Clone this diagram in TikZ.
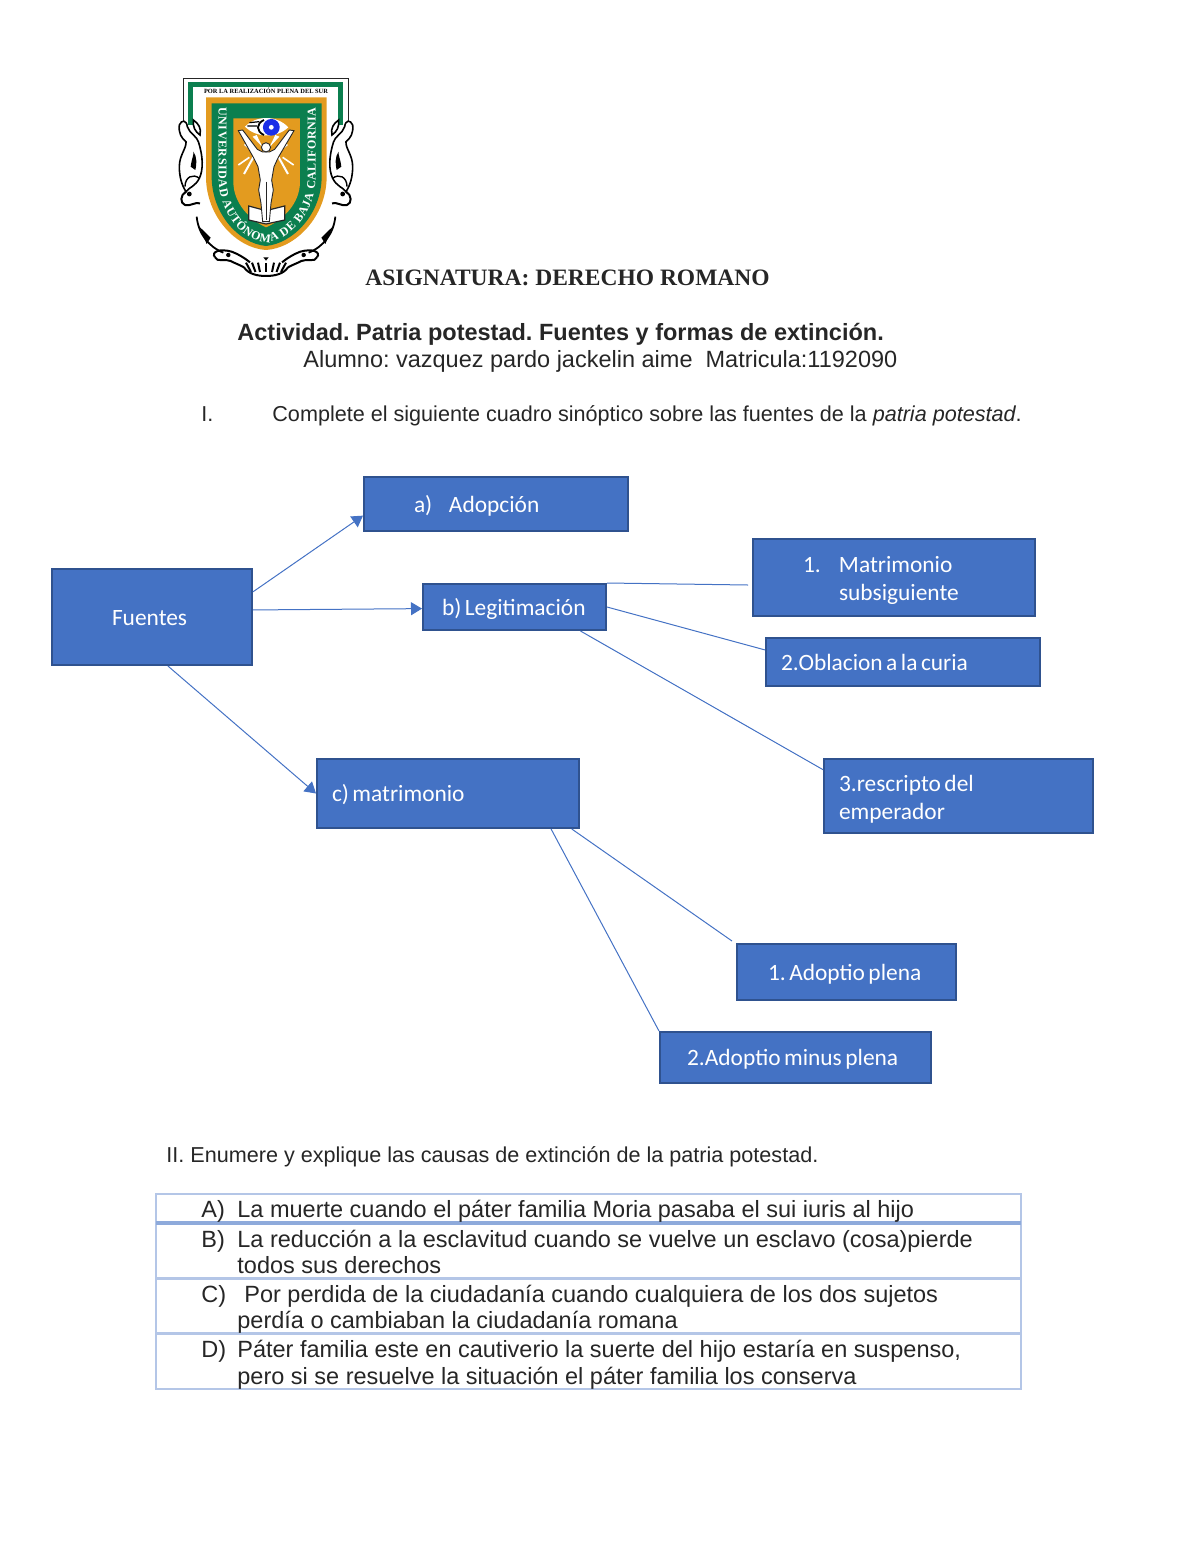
\documentclass[tikz,border=0pt]{standalone}
\usepackage{fontspec}
\setmainfont{Liberation Sans}
\newfontfamily\carlitofont{Carlito}
\newfontfamily\serifont{Liberation Serif}
\usetikzlibrary{arrows.meta, decorations.text}
\frenchspacing
\definecolor{boxblue}{HTML}{4472C4}
\definecolor{boxedge}{HTML}{2F528F}
\definecolor{rowline}{HTML}{B4C6E7}
\definecolor{rowthick}{HTML}{8EAADB}
\definecolor{ink}{HTML}{262626}
\definecolor{logogreen}{HTML}{0B7F4F}
\definecolor{logogold}{HTML}{E39B1F}
\newcommand{\boxstart}{\spaceskip=.15em\relax\leavevmode\vrule height 11.2pt depth 2.8pt width 0pt\relax}
\tikzset{
  blockbox/.style n args={3}{draw=boxedge, fill=boxblue, line width=1pt, text=white,
    font=\carlitofont\fontsize{11.7}{14}\selectfont, align=left,
    minimum width=#1*.5pt, minimum height=#2*.5pt, inner xsep=#3*.5pt,
    text width=(#1-2*#3)*.5pt, inner ysep=0pt,
    execute at begin node=\boxstart},
  link/.style={draw=boxblue, line width=.5pt},
  linkarrow/.style={link, -{Triangle[length=5.5pt,width=6.5pt]}},
  plain/.style={anchor=base west, inner sep=0pt, text=ink, font=\fontsize{11.75}{13}\selectfont},
  lead/.style={plain, font=\fontsize{10.8}{13}\selectfont},
}
% one side of the shield ornament, the other side is its mirror image
\newcommand{\logoside}{
  \draw[black, line width=.8pt, fill=white] (28,165) .. controls (35,148) and (50,150) .. (52,170)
    .. controls (58,190) and (82,200) .. (85,215) .. controls (100,260) and (100,300) .. (88,325)
    .. controls (75,350) and (60,350) .. (48,365) .. controls (35,345) and (28,320) .. (28,290)
    .. controls (28,255) and (50,235) .. (48,215) .. controls (35,205) and (25,190) .. (28,165) -- cycle;
  \draw[black, line width=.7pt] (45,350) .. controls (45,320) and (70,310) .. (88,325);
  \fill[black] (62,290) .. controls (65,265) and (72,255) .. (70,245) .. controls (82,260) and (80,285) .. (76,300) -- cycle;
  \draw[black, line width=.8pt, fill=white] (70,150) .. controls (85,160) and (95,175) .. (90,195) .. controls (75,185) and (68,170) .. (70,150) -- cycle;
  \draw[black, line width=1pt] (48,365) .. controls (30,375) and (30,400) .. (45,405) .. controls (60,410) and (75,395) .. (90,400);
  \fill[black] (58,372) circle (1.2pt);
  \draw[black, line width=.9pt] (80,440) .. controls (85,490) and (115,530) .. (160,548);
  \fill[black] (88,470) -- (122,503) -- (110,522) -- cycle;
  \draw[black, line width=1pt] (135,562) .. controls (122,545) and (150,535) .. (185,545)
    .. controls (205,552) and (225,565) .. (240,577);
  \draw[black, line width=1pt] (135,562) .. controls (142,578) and (165,565) .. (182,573)
    .. controls (195,580) and (210,585) .. (222,592);
  \fill[black] (175,555) circle (1.1pt);
  \foreach \fanx in {228,246,264} {
    \draw[black, line width=1pt] (\fanx,578) -- ({\fanx+(288-\fanx)*.25},606);
  }
  \draw[black, line width=1pt] (222,592) .. controls (235,612) and (262,618) .. (288,618);
}
\begin{document}
\begin{tikzpicture}[x=.5pt, y=-.5pt]
  \useasboundingbox (0,0) rectangle (1200,1553);
  % logo, coordinates read off a 3x crop
  \begin{scope}[shift={(170,70)}, x=.5pt/3, y=-.5pt/3]
    \draw[ink, line width=.7pt] (40,175) -- (40,25) -- (535,25) -- (535,175);
    \draw[logogreen, line width=2.5pt] (62,165) -- (62,42) -- (512,42) -- (512,165);
    \node[font=\serifont\bfseries\fontsize{3.2}{4}\selectfont, text=black, inner sep=0pt] (motto) at (288,63) {POR LA REALIZACIÓN PLENA DEL SUR};
    \fill[logogold] (108,82) -- (470,82) -- (470,320) .. controls (470,440) and (376,535) .. (288,540)
      .. controls (200,535) and (108,440) .. (108,320) -- cycle;
    \fill[logogreen] (125,100) -- (455,100) -- (455,320) .. controls (455,430) and (371,520) .. (288,528)
      .. controls (205,520) and (125,430) .. (125,320) -- cycle;
    \fill[logogold] (190,145) -- (390,145) -- (390,335) .. controls (390,400) and (340,450) .. (288,472)
      .. controls (240,450) and (190,400) .. (190,335) -- cycle;
    \path[decorate, decoration={text along path, text align=fit to path,
        text={|\serifont\bfseries\fontsize{6}{7}\selectfont\color{white}|UNIVERSIDAD AUTÓNOMA DE BAJA CALIFORNIA}}]
      (146,112) -- (146,320) .. controls (146,430) and (215,510) .. (288,518)
      .. controls (361,510) and (437,430) .. (437,320) -- (437,112);
    % rays behind the figure
    \fill[white] (222,225) -- (232,215) -- (262,258) -- cycle;
    \fill[white] (354,225) -- (344,215) -- (314,258) -- cycle;
    \fill[white] (248,200) -- (260,195) -- (278,232) -- cycle;
    \fill[white] (328,200) -- (316,195) -- (298,232) -- cycle;
    \draw[white, line width=1pt] (250,262) -- (222,312) (326,262) -- (354,312);
    \draw[white, line width=.8pt] (238,262) -- (205,285) (338,262) -- (371,285);
    % eye
    \fill[white] (225,170) .. controls (260,135) and (320,135) .. (355,172)
      .. controls (320,205) and (260,205) .. (225,170) -- cycle;
    \draw[black, line width=.9pt] (282,150) .. controls (258,160) and (258,185) .. (282,195);
    \draw[black, line width=.6pt] (238,158) -- (268,155) (232,168) -- (262,168);
    \fill[blue!60!boxblue] (304,172) circle (4.2pt);
    \fill[white] (304,172) circle (1.2pt);
    % book
    \draw[ink, line width=.6pt, fill=white] (236,408) -- (288,422) -- (344,408) -- (344,450) -- (288,462) -- (236,450) -- cycle;
    % figure
    \draw[ink, line width=.45pt, fill=white] (205,182) -- (218,180) -- (262,238) -- (278,246) -- (298,246)
      -- (314,238) -- (358,180) -- (372,182) -- (325,262) -- (312,290) -- (305,330) -- (310,360)
      -- (303,400) -- (298,455) -- (278,455) -- (273,400) -- (266,360) -- (271,330) -- (264,290)
      -- (250,262) -- cycle;
    \draw[ink, line width=.45pt, fill=white] (288,232) circle (2.3pt);
    \draw[ink, line width=.35pt] (288,335) -- (288,450);
    \logoside
    \begin{scope}[xshift=576*.5pt/3, xscale=-1]
      \logoside
    \end{scope}
    \fill[black] (280,562) -- (296,562) -- (288,572) -- cycle;
    \draw[black, line width=1pt] (288,580) -- (288,606);
  \end{scope}
  % heading
  \node[plain, font=\serifont\bfseries\fontsize{11.75}{13}\selectfont] (asignatura) at (365,285) {ASIGNATURA: DERECHO ROMANO};
  \node[plain, font=\bfseries\fontsize{11.75}{13}\selectfont] (actividad) at (237,340) {Actividad. Patria potestad. Fuentes y formas de extinción.};
  \node[plain, font=\fontsize{11.75}{14}\selectfont] (alumno) at (303,367) {Alumno: vazquez pardo jackelin aime\ \ Matricula:1192090};
  \node[lead] (num1) at (201,421) {I.};
  \node[lead] (complete) at (272,421) {Complete el siguiente cuadro sinóptico sobre las fuentes de la \textit{patria potestad}.};
  % boxes
  \node[blockbox={200}{96}{60}] (fuentes) at (152,617) {Fuentes};
  \node[blockbox={264}{54}{50}] (adopcion) at (496,504) {\makebox[17.5pt][l]{a)}Adopción};
  \node[blockbox={183}{46}{19}] (legitimacion) at (514.5,607) {\mbox{b) Legitimación}};
  \node[blockbox={262}{69}{15}] (matrimonio) at (448,793.5) {\mbox{c) matrimonio}};
  \node[blockbox={282}{77}{50}] (subsiguiente) at (894,577.5) {\makebox[18pt][l]{1.}Matrimonio\\\hspace*{18pt}subsiguiente};
  \node[blockbox={274}{48}{15}] (oblacion) at (903,662) {\mbox{2.Oblacion a la curia}};
  \node[blockbox={269}{74}{15}] (rescripto) at (958.5,796) {3.rescripto del\\emperador};
  \node[blockbox={219}{56}{31}] (plena) at (846.5,972) {\mbox{1. Adoptio plena}};
  \node[blockbox={271}{51}{27}] (minus) at (795.5,1057.5) {\mbox{2.Adoptio minus plena}};
  % free ends of the lines that stop short of a box
  \coordinate (endsub) at (748,585);
  \coordinate (endplena) at (732,941);
  % connectors
  \draw[linkarrow] (fuentes.14.6) -- (adopcion.185.6);
  \draw[linkarrow] (fuentes.4.5) -- (legitimacion.181.2);
  \draw[linkarrow] (fuentes.-72.6) -- (matrimonio.west);
  \draw[link] (legitimacion.north east) -- (endsub);
  \draw[link] (legitimacion.east) -- (oblacion.175.4);
  \draw[link] (legitimacion.-20.5) -- (rescripto.169.1);
  \draw[link] (matrimonio.-16.9) -- (endplena);
  \draw[link] (matrimonio.-19.2) -- (minus.north west);
  % second part
  \node[lead] (num2) at (166,1162) {II. Enumere y explique las causas de extinción de la patria potestad.};
  \draw[rowline, line width=1pt] (156,1194) rectangle (1021,1389);
  \draw[rowthick, line width=2pt] (156,1222.5) -- (1021,1222.5);
  \draw[rowline, line width=1.2pt] (156,1278.5) -- (1021,1278.5);
  \draw[rowline, line width=1.2pt] (156,1333.5) -- (1021,1333.5);
  \node[plain] (rowa) at (201,1217) {A)};
  \node[plain] (rowatext) at (237,1217) {La muerte cuando el páter familia Moria pasaba el sui iuris al hijo};
  \node[plain] (rowb) at (201,1247) {B)};
  \node[plain] (rowbtext) at (237,1247) {La reducción a la esclavitud cuando se vuelve un esclavo (cosa)pierde};
  \node[plain] (rowbcont) at (237,1273) {todos sus derechos};
  \node[plain] (rowc) at (201,1302) {C)};
  \node[plain] (rowctext) at (244,1302) {Por perdida de la ciudadanía cuando cualquiera de los dos sujetos};
  \node[plain] (rowccont) at (237,1328) {perdía o cambiaban la ciudadanía romana};
  \node[plain] (rowd) at (201,1357) {D)};
  \node[plain] (rowdtext) at (237,1357) {Páter familia este en cautiverio la suerte del hijo estaría en suspenso,};
  \node[plain] (rowdcont) at (237,1384) {pero si se resuelve la situación el páter familia los conserva};
\end{tikzpicture}
\end{document}
